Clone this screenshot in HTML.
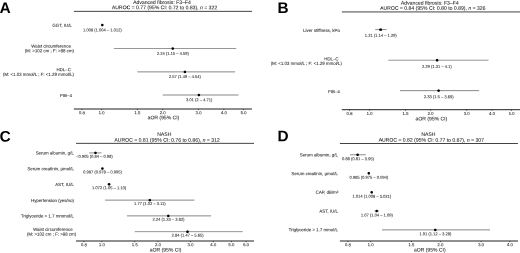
<!DOCTYPE html>
<html lang="en">
<head>
<meta charset="utf-8">
<title>Forest plots</title>
<style>
html,body{margin:0;padding:0;background:#fff;}
body{width:520px;height:253px;overflow:hidden;}
#frame{position:relative;width:520px;height:253px;overflow:hidden;background:#fff;}
#hi{position:absolute;left:0;top:0;width:1040px;height:506px;transform:scale(0.5);transform-origin:0 0;will-change:transform;}
svg{display:block;}
svg text{font-family:"Liberation Sans", Arial, Helvetica, sans-serif;stroke-linejoin:round;}
</style>
</head>
<body>
<div id="frame"><div id="hi">
<svg width="1040" height="506" viewBox="0 0 520 253" text-rendering="geometricPrecision">
<rect x="0" y="0" width="520" height="253" fill="#ffffff"/>
<g>
<text x="-0.35" y="13.0" font-size="15.3" text-anchor="start" font-weight="bold" fill="#000" transform="rotate(0.02 -0.35 13.0)">A</text>
<text x="162.0" y="4.0" font-size="5.1" text-anchor="middle" fill="#202020" stroke="#202020" stroke-width="0.06" transform="rotate(0.02 162.0 4.0)">Advanced fibrosis: F3–F4</text>
<text x="164.5" y="9.2" font-size="5.1" text-anchor="middle" fill="#202020" stroke="#202020" stroke-width="0.06" transform="rotate(0.02 164.5 9.2)">AUROC = 0.77 (95% CI: 0.72 to 0.83), <tspan font-style="italic">n</tspan> = 322</text>
<line x1="73.9" y1="11.3" x2="252.0" y2="11.3" stroke="#2a2a2a" stroke-width="0.88"/>
<text x="71.9" y="26.9" font-size="4.4" text-anchor="end" fill="#202020" stroke="#202020" stroke-width="0.06" transform="rotate(0.02 71.9 26.9)">GGT, IU/L</text>
<text x="70.9" y="47.6" font-size="4.4" text-anchor="end" fill="#202020" stroke="#202020" stroke-width="0.06" transform="rotate(0.02 70.9 47.6)">Waist circumference</text>
<text x="74.0" y="52.3" font-size="4.4" text-anchor="end" fill="#202020" stroke="#202020" stroke-width="0.06" transform="rotate(0.02 74.0 52.3)">(M: &gt;102 cm ; F: &gt;88 cm)</text>
<text x="70.9" y="71.1" font-size="4.4" text-anchor="end" fill="#202020" stroke="#202020" stroke-width="0.06" transform="rotate(0.02 70.9 71.1)">HDL–C</text>
<text x="74.0" y="75.9" font-size="4.4" text-anchor="end" fill="#202020" stroke="#202020" stroke-width="0.06" transform="rotate(0.02 74.0 75.9)">(M: &lt;1.03 mmol/L ; F: &lt;1.29 mmol/L)</text>
<text x="71.9" y="97.0" font-size="4.4" text-anchor="end" fill="#202020" stroke="#202020" stroke-width="0.06" transform="rotate(0.02 71.9 97.0)">FIB–4</text>
<circle cx="102.3" cy="25.0" r="1.28" fill="#000"/>
<text x="102.35" y="31.400000000000002" font-size="4.06" text-anchor="middle" fill="#202020" stroke="#202020" stroke-width="0.06" transform="rotate(0.02 102.35 31.400000000000002)">1.008 (1.004 – 1.012)</text>
<line x1="113.9" y1="48.55" x2="236.2" y2="48.55" stroke="#888888" stroke-width="0.95"/>
<circle cx="172.75" cy="48.55" r="1.28" fill="#000"/>
<text x="172.9" y="54.9" font-size="4.06" text-anchor="middle" fill="#202020" stroke="#202020" stroke-width="0.06" transform="rotate(0.02 172.9 54.9)">2.24 (1.15 – 4.59)</text>
<line x1="137.3" y1="71.9" x2="235.1" y2="71.9" stroke="#888888" stroke-width="0.95"/>
<circle cx="184.9" cy="71.9" r="1.28" fill="#000"/>
<text x="184.9" y="78.0" font-size="4.06" text-anchor="middle" fill="#202020" stroke="#202020" stroke-width="0.06" transform="rotate(0.02 184.9 78.0)">2.57 (1.49 – 4.54)</text>
<line x1="162.7" y1="95.0" x2="238.5" y2="95.0" stroke="#888888" stroke-width="0.95"/>
<circle cx="198.9" cy="95.0" r="1.28" fill="#000"/>
<text x="199.2" y="101.2" font-size="4.06" text-anchor="middle" fill="#202020" stroke="#202020" stroke-width="0.06" transform="rotate(0.02 199.2 101.2)">3.01 (2 – 4.71)</text>
<line x1="73.9" y1="109.0" x2="251.9" y2="109.0" stroke="#4c4c4c" stroke-width="1.25"/>
<line x1="81.9" y1="109.0" x2="81.9" y2="110.125" stroke="#333" stroke-width="0.9"/>
<text x="81.9" y="114.2" font-size="4.3" text-anchor="middle" fill="#202020" stroke="#202020" stroke-width="0.06" transform="rotate(0.02 81.9 114.2)">0.8</text>
<line x1="101.6" y1="109.0" x2="101.6" y2="110.125" stroke="#333" stroke-width="0.9"/>
<text x="101.6" y="114.2" font-size="4.3" text-anchor="middle" fill="#202020" stroke="#202020" stroke-width="0.06" transform="rotate(0.02 101.6 114.2)">1.0</text>
<line x1="137.4" y1="109.0" x2="137.4" y2="110.125" stroke="#333" stroke-width="0.9"/>
<text x="137.4" y="114.2" font-size="4.3" text-anchor="middle" fill="#202020" stroke="#202020" stroke-width="0.06" transform="rotate(0.02 137.4 114.2)">1.5</text>
<line x1="162.7" y1="109.0" x2="162.7" y2="110.125" stroke="#333" stroke-width="0.9"/>
<text x="162.7" y="114.2" font-size="4.3" text-anchor="middle" fill="#202020" stroke="#202020" stroke-width="0.06" transform="rotate(0.02 162.7 114.2)">2.0</text>
<line x1="198.5" y1="109.0" x2="198.5" y2="110.125" stroke="#333" stroke-width="0.9"/>
<text x="198.5" y="114.2" font-size="4.3" text-anchor="middle" fill="#202020" stroke="#202020" stroke-width="0.06" transform="rotate(0.02 198.5 114.2)">3.0</text>
<line x1="223.9" y1="109.0" x2="223.9" y2="110.125" stroke="#333" stroke-width="0.9"/>
<text x="223.9" y="114.2" font-size="4.3" text-anchor="middle" fill="#202020" stroke="#202020" stroke-width="0.06" transform="rotate(0.02 223.9 114.2)">4.0</text>
<line x1="243.6" y1="109.0" x2="243.6" y2="110.125" stroke="#333" stroke-width="0.9"/>
<text x="243.6" y="114.2" font-size="4.3" text-anchor="middle" fill="#202020" stroke="#202020" stroke-width="0.06" transform="rotate(0.02 243.6 114.2)">5.0</text>
<text x="163.5" y="119.3" font-size="5.05" text-anchor="middle" fill="#202020" stroke="#202020" stroke-width="0.06" transform="rotate(0.02 163.5 119.3)">aOR (95% CI)</text>
</g>
<g>
<text x="277.5" y="13.0" font-size="15.3" text-anchor="start" font-weight="bold" fill="#000" transform="rotate(0.02 277.5 13.0)">B</text>
<text x="429.8" y="4.6" font-size="5.1" text-anchor="middle" fill="#202020" stroke="#202020" stroke-width="0.06" transform="rotate(0.02 429.8 4.6)">Advanced fibrosis: F3–F4</text>
<text x="432.8" y="9.8" font-size="5.1" text-anchor="middle" fill="#202020" stroke="#202020" stroke-width="0.06" transform="rotate(0.02 432.8 9.8)">AUROC = 0.84 (95% CI: 0.80 to 0.89), <tspan font-style="italic">n</tspan> = 326</text>
<line x1="341.8" y1="11.97" x2="520" y2="11.97" stroke="#2a2a2a" stroke-width="0.88"/>
<text x="339.9" y="31.9" font-size="4.4" text-anchor="end" fill="#202020" stroke="#202020" stroke-width="0.06" transform="rotate(0.02 339.9 31.9)">Liver stiffness, kPa</text>
<text x="338.6" y="60.35" font-size="4.4" text-anchor="end" fill="#202020" stroke="#202020" stroke-width="0.06" transform="rotate(0.02 338.6 60.35)">HDL–C</text>
<text x="341.8" y="64.9" font-size="4.4" text-anchor="end" fill="#202020" stroke="#202020" stroke-width="0.06" transform="rotate(0.02 341.8 64.9)">(M: &lt;1.03 mmol/L ; F: &lt;1.29 mmol/L)</text>
<text x="339.8" y="93.2" font-size="4.4" text-anchor="end" fill="#202020" stroke="#202020" stroke-width="0.06" transform="rotate(0.02 339.8 93.2)">FIB–4</text>
<line x1="375.2" y1="29.6" x2="386.5" y2="29.6" stroke="#888888" stroke-width="0.95"/>
<circle cx="380.45" cy="29.6" r="1.28" fill="#000"/>
<text x="380.8" y="36.8" font-size="4.06" text-anchor="middle" fill="#202020" stroke="#202020" stroke-width="0.06" transform="rotate(0.02 380.8 36.8)">1.21 (1.14 – 1.29)</text>
<line x1="388.2" y1="60.2" x2="488.5" y2="60.2" stroke="#888888" stroke-width="0.95"/>
<circle cx="437.1" cy="60.2" r="1.28" fill="#000"/>
<text x="436.9" y="67.89999999999999" font-size="4.06" text-anchor="middle" fill="#202020" stroke="#202020" stroke-width="0.06" transform="rotate(0.02 436.9 67.89999999999999)">2.29 (1.31 – 4.1)</text>
<line x1="400.1" y1="90.65" x2="479.1" y2="90.65" stroke="#888888" stroke-width="0.95"/>
<circle cx="438.6" cy="90.65" r="1.28" fill="#000"/>
<text x="438.75" y="98.2" font-size="4.06" text-anchor="middle" fill="#202020" stroke="#202020" stroke-width="0.06" transform="rotate(0.02 438.75 98.2)">2.33 (1.5 – 3.69)</text>
<line x1="341.8" y1="109.62" x2="520" y2="109.62" stroke="#4c4c4c" stroke-width="1.25"/>
<line x1="349.5" y1="109.62" x2="349.5" y2="110.745" stroke="#333" stroke-width="0.9"/>
<text x="349.5" y="115.0" font-size="4.3" text-anchor="middle" fill="#202020" stroke="#202020" stroke-width="0.06" transform="rotate(0.02 349.5 115.0)">0.8</text>
<line x1="369.6" y1="109.62" x2="369.6" y2="110.745" stroke="#333" stroke-width="0.9"/>
<text x="369.6" y="115.0" font-size="4.3" text-anchor="middle" fill="#202020" stroke="#202020" stroke-width="0.06" transform="rotate(0.02 369.6 115.0)">1.0</text>
<line x1="405.5" y1="109.62" x2="405.5" y2="110.745" stroke="#333" stroke-width="0.9"/>
<text x="405.5" y="115.0" font-size="4.3" text-anchor="middle" fill="#202020" stroke="#202020" stroke-width="0.06" transform="rotate(0.02 405.5 115.0)">1.5</text>
<line x1="430.6" y1="109.62" x2="430.6" y2="110.745" stroke="#333" stroke-width="0.9"/>
<text x="430.6" y="115.0" font-size="4.3" text-anchor="middle" fill="#202020" stroke="#202020" stroke-width="0.06" transform="rotate(0.02 430.6 115.0)">2.0</text>
<line x1="466.7" y1="109.62" x2="466.7" y2="110.745" stroke="#333" stroke-width="0.9"/>
<text x="466.7" y="115.0" font-size="4.3" text-anchor="middle" fill="#202020" stroke="#202020" stroke-width="0.06" transform="rotate(0.02 466.7 115.0)">3.0</text>
<line x1="492.0" y1="109.62" x2="492.0" y2="110.745" stroke="#333" stroke-width="0.9"/>
<text x="492.0" y="115.0" font-size="4.3" text-anchor="middle" fill="#202020" stroke="#202020" stroke-width="0.06" transform="rotate(0.02 492.0 115.0)">4.0</text>
<line x1="511.5" y1="109.62" x2="511.5" y2="110.745" stroke="#333" stroke-width="0.9"/>
<text x="511.5" y="115.0" font-size="4.3" text-anchor="middle" fill="#202020" stroke="#202020" stroke-width="0.06" transform="rotate(0.02 511.5 115.0)">5.0</text>
<text x="431.4" y="120.4" font-size="5.05" text-anchor="middle" fill="#202020" stroke="#202020" stroke-width="0.06" transform="rotate(0.02 431.4 120.4)">aOR (95% CI)</text>
</g>
<g>
<text x="-0.4" y="141.6" font-size="15.3" text-anchor="start" font-weight="bold" fill="#000" transform="rotate(0.02 -0.4 141.6)">C</text>
<text x="164.3" y="135.85" font-size="5.1" text-anchor="middle" fill="#202020" stroke="#202020" stroke-width="0.06" transform="rotate(0.02 164.3 135.85)">NASH</text>
<text x="167.1" y="141.7" font-size="5.1" text-anchor="middle" fill="#202020" stroke="#202020" stroke-width="0.06" transform="rotate(0.02 167.1 141.7)">AUROC = 0.81 (95% CI: 0.76 to 0.86), <tspan font-style="italic">n</tspan> = 312</text>
<line x1="76.0" y1="143.3" x2="254.0" y2="143.3" stroke="#2a2a2a" stroke-width="0.88"/>
<text x="73.8" y="154.5" font-size="4.4" text-anchor="end" fill="#202020" stroke="#202020" stroke-width="0.06" transform="rotate(0.02 73.8 154.5)">Serum albumin, g/L</text>
<text x="73.8" y="170.3" font-size="4.4" text-anchor="end" fill="#202020" stroke="#202020" stroke-width="0.06" transform="rotate(0.02 73.8 170.3)">Serum creatinin, μmol/L</text>
<text x="73.8" y="186.0" font-size="4.4" text-anchor="end" fill="#202020" stroke="#202020" stroke-width="0.06" transform="rotate(0.02 73.8 186.0)">AST, IU/L</text>
<text x="74.0" y="202.0" font-size="4.4" text-anchor="end" fill="#202020" stroke="#202020" stroke-width="0.06" transform="rotate(0.02 74.0 202.0)">Hypertension (yes/no)</text>
<text x="73.8" y="217.5" font-size="4.4" text-anchor="end" fill="#202020" stroke="#202020" stroke-width="0.06" transform="rotate(0.02 73.8 217.5)">Triglyceride &gt; 1.7 mmmol/L</text>
<text x="72.7" y="230.9" font-size="4.4" text-anchor="end" fill="#202020" stroke="#202020" stroke-width="0.06" transform="rotate(0.02 72.7 230.9)">Waist circumference</text>
<text x="76.2" y="235.6" font-size="4.4" text-anchor="end" fill="#202020" stroke="#202020" stroke-width="0.06" transform="rotate(0.02 76.2 235.6)">(M: &gt;102 cm ; F: &gt;88 cm)</text>
<line x1="89.2" y1="152.9" x2="101.5" y2="152.9" stroke="#888888" stroke-width="0.95"/>
<circle cx="95.5" cy="152.9" r="1.28" fill="#000"/>
<text x="94.4" y="157.8" font-size="4.06" text-anchor="middle" fill="#202020" stroke="#202020" stroke-width="0.06" transform="rotate(0.02 94.4 157.8)"><tspan fill="#777" stroke="none">&lt;</tspan>0.905 (0.84 – 0.98)</text>
<circle cx="102.4" cy="168.5" r="1.28" fill="#000"/>
<text x="102.5" y="173.4" font-size="4.06" text-anchor="middle" fill="#202020" stroke="#202020" stroke-width="0.06" transform="rotate(0.02 102.5 173.4)">0.987 (0.978 – 0.995)</text>
<line x1="107.5" y1="184.3" x2="110.9" y2="184.3" stroke="#888888" stroke-width="0.95"/>
<circle cx="109.05" cy="184.3" r="1.28" fill="#000"/>
<text x="109.1" y="189.20000000000002" font-size="4.06" text-anchor="middle" fill="#202020" stroke="#202020" stroke-width="0.06" transform="rotate(0.02 109.1 189.20000000000002)">1.072 (1.05 – 1.10)</text>
<line x1="105.1" y1="200.1" x2="194.4" y2="200.1" stroke="#888888" stroke-width="0.95"/>
<circle cx="149.8" cy="200.1" r="1.28" fill="#000"/>
<text x="149.8" y="205.0" font-size="4.06" text-anchor="middle" fill="#202020" stroke="#202020" stroke-width="0.06" transform="rotate(0.02 149.8 205.0)">1.77 (1.02 – 3.11)</text>
<line x1="126.9" y1="215.9" x2="211.1" y2="215.9" stroke="#888888" stroke-width="0.95"/>
<circle cx="168.3" cy="215.9" r="1.28" fill="#000"/>
<text x="168.5" y="220.8" font-size="4.06" text-anchor="middle" fill="#202020" stroke="#202020" stroke-width="0.06" transform="rotate(0.02 168.5 220.8)">2.24 (1.33 – 3.82)</text>
<line x1="134.7" y1="231.7" x2="242.8" y2="231.7" stroke="#888888" stroke-width="0.95"/>
<circle cx="187.5" cy="231.7" r="1.28" fill="#000"/>
<text x="187.6" y="236.60000000000002" font-size="4.06" text-anchor="middle" fill="#202020" stroke="#202020" stroke-width="0.06" transform="rotate(0.02 187.6 236.60000000000002)">2.84 (1.47 – 5.65)</text>
<line x1="76.0" y1="241.05" x2="254.0" y2="241.05" stroke="#4c4c4c" stroke-width="1.25"/>
<line x1="83.9" y1="241.05" x2="83.9" y2="242.175" stroke="#333" stroke-width="0.9"/>
<text x="83.9" y="246.2" font-size="4.3" text-anchor="middle" fill="#202020" stroke="#202020" stroke-width="0.06" transform="rotate(0.02 83.9 246.2)">0.8</text>
<line x1="101.9" y1="241.05" x2="101.9" y2="242.175" stroke="#333" stroke-width="0.9"/>
<text x="101.9" y="246.2" font-size="4.3" text-anchor="middle" fill="#202020" stroke="#202020" stroke-width="0.06" transform="rotate(0.02 101.9 246.2)">1.0</text>
<line x1="134.8" y1="241.05" x2="134.8" y2="242.175" stroke="#333" stroke-width="0.9"/>
<text x="134.8" y="246.2" font-size="4.3" text-anchor="middle" fill="#202020" stroke="#202020" stroke-width="0.06" transform="rotate(0.02 134.8 246.2)">1.5</text>
<line x1="158.0" y1="241.05" x2="158.0" y2="242.175" stroke="#333" stroke-width="0.9"/>
<text x="158.0" y="246.2" font-size="4.3" text-anchor="middle" fill="#202020" stroke="#202020" stroke-width="0.06" transform="rotate(0.02 158.0 246.2)">2.0</text>
<line x1="190.5" y1="241.05" x2="190.5" y2="242.175" stroke="#333" stroke-width="0.9"/>
<text x="190.5" y="246.2" font-size="4.3" text-anchor="middle" fill="#202020" stroke="#202020" stroke-width="0.06" transform="rotate(0.02 190.5 246.2)">3.0</text>
<line x1="213.3" y1="241.05" x2="213.3" y2="242.175" stroke="#333" stroke-width="0.9"/>
<text x="213.3" y="246.2" font-size="4.3" text-anchor="middle" fill="#202020" stroke="#202020" stroke-width="0.06" transform="rotate(0.02 213.3 246.2)">4.0</text>
<line x1="231.4" y1="241.05" x2="231.4" y2="242.175" stroke="#333" stroke-width="0.9"/>
<text x="231.4" y="246.2" font-size="4.3" text-anchor="middle" fill="#202020" stroke="#202020" stroke-width="0.06" transform="rotate(0.02 231.4 246.2)">5.0</text>
<line x1="246.1" y1="241.05" x2="246.1" y2="242.175" stroke="#333" stroke-width="0.9"/>
<text x="246.1" y="246.2" font-size="4.3" text-anchor="middle" fill="#202020" stroke="#202020" stroke-width="0.06" transform="rotate(0.02 246.1 246.2)">6.0</text>
<text x="165.65" y="251.5" font-size="5.05" text-anchor="middle" fill="#202020" stroke="#202020" stroke-width="0.06" transform="rotate(0.02 165.65 251.5)">aOR (95% CI)</text>
</g>
<g>
<text x="277.5" y="141.3" font-size="15.3" text-anchor="start" font-weight="bold" fill="#000" transform="rotate(0.02 277.5 141.3)">D</text>
<text x="428.4" y="135.85" font-size="5.1" text-anchor="middle" fill="#202020" stroke="#202020" stroke-width="0.06" transform="rotate(0.02 428.4 135.85)">NASH</text>
<text x="431.3" y="141.7" font-size="5.1" text-anchor="middle" fill="#202020" stroke="#202020" stroke-width="0.06" transform="rotate(0.02 431.3 141.7)">AUROC = 0.82 (95% CI: 0.77 to 0.87), <tspan font-style="italic">n</tspan> = 307</text>
<line x1="339.9" y1="143.4" x2="517.9" y2="143.4" stroke="#2a2a2a" stroke-width="0.88"/>
<text x="337.9" y="156.4" font-size="4.4" text-anchor="end" fill="#202020" stroke="#202020" stroke-width="0.06" transform="rotate(0.02 337.9 156.4)">Serum albumin, g/L</text>
<text x="337.9" y="175.2" font-size="4.4" text-anchor="end" fill="#202020" stroke="#202020" stroke-width="0.06" transform="rotate(0.02 337.9 175.2)">Serum creatinin, μmol/L</text>
<text x="338.3" y="193.8" font-size="4.4" text-anchor="end" fill="#202020" stroke="#202020" stroke-width="0.06" transform="rotate(0.02 338.3 193.8)">CAP, dB/m²</text>
<text x="337.9" y="212.7" font-size="4.4" text-anchor="end" fill="#202020" stroke="#202020" stroke-width="0.06" transform="rotate(0.02 337.9 212.7)">AST, IU/L</text>
<text x="337.9" y="231.3" font-size="4.4" text-anchor="end" fill="#202020" stroke="#202020" stroke-width="0.06" transform="rotate(0.02 337.9 231.3)">Triglyceride &gt; 1.7 mmol/L</text>
<line x1="350.0" y1="154.8" x2="365.85" y2="154.8" stroke="#888888" stroke-width="0.95"/>
<circle cx="357.6" cy="154.8" r="1.28" fill="#000"/>
<text x="357.95" y="160.20000000000002" font-size="4.06" text-anchor="middle" fill="#202020" stroke="#202020" stroke-width="0.06" transform="rotate(0.02 357.95 160.20000000000002)">0.88 (0.81 – 0.95)</text>
<circle cx="368.8" cy="173.3" r="1.28" fill="#000"/>
<text x="368.9" y="178.8" font-size="4.06" text-anchor="middle" fill="#202020" stroke="#202020" stroke-width="0.06" transform="rotate(0.02 368.9 178.8)">0.985 (0.975 – 0.994)</text>
<circle cx="371.7" cy="192.3" r="1.28" fill="#000"/>
<text x="371.9" y="197.70000000000002" font-size="4.06" text-anchor="middle" fill="#202020" stroke="#202020" stroke-width="0.06" transform="rotate(0.02 371.9 197.70000000000002)">1.014 (1.008 – 1.021)</text>
<line x1="374.5" y1="211.0" x2="379.0" y2="211.0" stroke="#888888" stroke-width="0.95"/>
<circle cx="376.7" cy="211.0" r="1.28" fill="#000"/>
<text x="376.9" y="216.5" font-size="4.06" text-anchor="middle" fill="#202020" stroke="#202020" stroke-width="0.06" transform="rotate(0.02 376.9 216.5)">1.07 (1.04 – 1.09)</text>
<line x1="381.7" y1="229.9" x2="490.0" y2="229.9" stroke="#888888" stroke-width="0.95"/>
<circle cx="435.3" cy="229.9" r="1.28" fill="#000"/>
<text x="435.4" y="235.3" font-size="4.06" text-anchor="middle" fill="#202020" stroke="#202020" stroke-width="0.06" transform="rotate(0.02 435.4 235.3)">1.91 (1.12 – 3.28)</text>
<line x1="339.9" y1="241.0" x2="518.0" y2="241.0" stroke="#4c4c4c" stroke-width="1.25"/>
<line x1="347.9" y1="241.0" x2="347.9" y2="242.125" stroke="#333" stroke-width="0.9"/>
<text x="347.9" y="246.2" font-size="4.3" text-anchor="middle" fill="#202020" stroke="#202020" stroke-width="0.06" transform="rotate(0.02 347.9 246.2)">0.8</text>
<line x1="370.65" y1="241.0" x2="370.65" y2="242.125" stroke="#333" stroke-width="0.9"/>
<text x="370.65" y="246.2" font-size="4.3" text-anchor="middle" fill="#202020" stroke="#202020" stroke-width="0.06" transform="rotate(0.02 370.65 246.2)">1.0</text>
<line x1="411.4" y1="241.0" x2="411.4" y2="242.125" stroke="#333" stroke-width="0.9"/>
<text x="411.4" y="246.2" font-size="4.3" text-anchor="middle" fill="#202020" stroke="#202020" stroke-width="0.06" transform="rotate(0.02 411.4 246.2)">1.5</text>
<line x1="440.4" y1="241.0" x2="440.4" y2="242.125" stroke="#333" stroke-width="0.9"/>
<text x="440.4" y="246.2" font-size="4.3" text-anchor="middle" fill="#202020" stroke="#202020" stroke-width="0.06" transform="rotate(0.02 440.4 246.2)">2.0</text>
<line x1="481.1" y1="241.0" x2="481.1" y2="242.125" stroke="#333" stroke-width="0.9"/>
<text x="481.1" y="246.2" font-size="4.3" text-anchor="middle" fill="#202020" stroke="#202020" stroke-width="0.06" transform="rotate(0.02 481.1 246.2)">3.0</text>
<line x1="509.9" y1="241.0" x2="509.9" y2="242.125" stroke="#333" stroke-width="0.9"/>
<text x="509.9" y="246.2" font-size="4.3" text-anchor="middle" fill="#202020" stroke="#202020" stroke-width="0.06" transform="rotate(0.02 509.9 246.2)">4.0</text>
<text x="429.8" y="251.5" font-size="5.05" text-anchor="middle" fill="#202020" stroke="#202020" stroke-width="0.06" transform="rotate(0.02 429.8 251.5)">aOR (95% CI)</text>
</g>
</svg>
</div></div>
</body>
</html>
